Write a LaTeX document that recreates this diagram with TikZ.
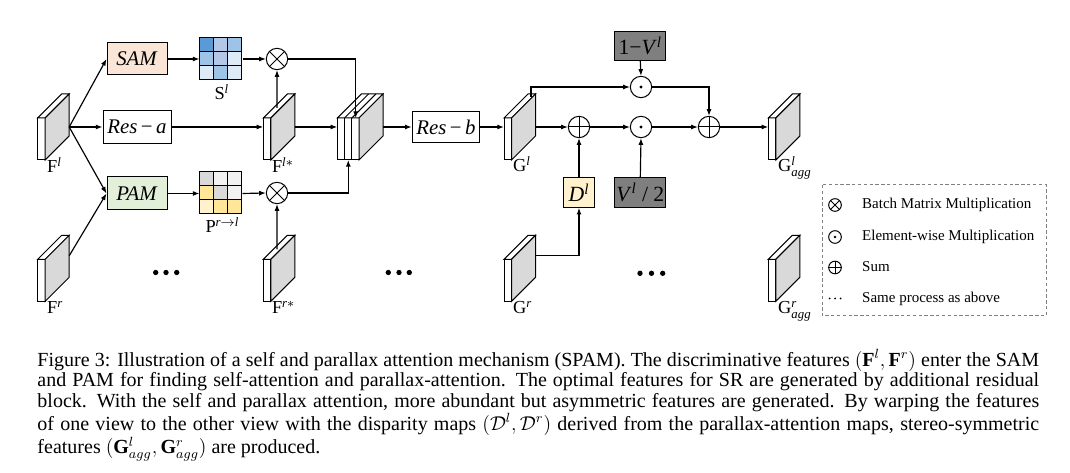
\documentclass[tikz,border=0pt]{standalone}
\usepackage{amsmath}
\usepackage{fontspec}
\setmainfont{Liberation Serif}
\usetikzlibrary{arrows.meta,calc}
\definecolor{blockgray}{HTML}{D9D9D9}
\definecolor{samfill}{HTML}{FBE5D6}
\definecolor{pamfill}{HTML}{E2F0D9}
\definecolor{dfill}{HTML}{FFF2CC}
\definecolor{vfill}{HTML}{7F7F7F}
\definecolor{bA}{HTML}{5B9BD5}
\definecolor{bB}{HTML}{B4C7E7}
\definecolor{bC}{HTML}{9DC3E6}
\definecolor{bD}{HTML}{DEEBF7}
\definecolor{yA}{HTML}{FFE699}
\definecolor{yB}{HTML}{FFF2CC}
\definecolor{gA}{HTML}{D9D9D9}
\definecolor{gB}{HTML}{F2F2F2}
\newcommand{\capl}[1]{\hbox to 601pt{#1}}
\newcommand{\cellgrid}[2]{%
  \foreach \cl [count=\k from 0] in {#2} {
    \pgfmathtruncatemacro{\rowi}{int(\k/3)}
    \pgfmathtruncatemacro{\coli}{mod(\k,3)}
    \draw[fill=\cl] ($(#1.north west)+(\coli*14,\rowi*14)$) rectangle ++(14,14);
  }}
\tikzset{
  fblock/.pic={
    \draw[fill=white] (0,0) rectangle (7.5,42);
    \draw[fill=white] (0,0)--(24,-24)--(31.5,-24)--(7.5,0)--cycle;
    \draw[fill=blockgray] (7.5,0)--(31.5,-24)--(31.5,18)--(7.5,42)--cycle;
    \coordinate (-in) at (0,9);
    \coordinate (-out) at (31.5,9);
    \coordinate (-up) at (13.7,-10);
    \coordinate (-upr) at (27,-21);
    \coordinate (-outr) at (31.5,-3.5);
  },
  cblock/.pic={
    \draw[fill=white] (0,0) rectangle (7.2,42);
    \draw[fill=white] (7.2,0) rectangle (14.5,42);
    \draw[fill=white] (14.5,0) rectangle (21.7,42);
    \draw[fill=white] (0,0)--(24,-24)--(45.7,-24)--(21.7,0)--cycle;
    \draw (7.2,0)--(31.2,-24) (14.5,0)--(38.5,-24);
    \draw[fill=blockgray] (21.7,0)--(45.7,-24)--(45.7,18)--(21.7,42)--cycle;
    \coordinate (-in) at (0,9);
    \coordinate (-out) at (45.7,9);
    \coordinate (-top) at (18.4,0);
    \coordinate (-bot) at (11,42);
  },
  boxs/.style={draw, line width=0.6pt, inner sep=0, font=\fontsize{12.5}{14}\selectfont},
  opc/.style={circle, draw, minimum size=12.8pt, inner sep=0, line width=0.6pt},
  otimesn/.style={opc, path picture={\draw (path picture bounding box.north west)--(path picture bounding box.south east) (path picture bounding box.north east)--(path picture bounding box.south west);}},
  oplusn/.style={opc, path picture={\draw (path picture bounding box.north)--(path picture bounding box.south) (path picture bounding box.east)--(path picture bounding box.west);}},
  odotn/.style={opc, path picture={\fill (path picture bounding box.center) circle[radius=1pt];}},
  lab/.style={anchor=base west, inner sep=0, font=\fontsize{11}{13}\selectfont},
  lt/.style={anchor=mid west, inner sep=0, font=\fontsize{9}{11}\selectfont},
  conn/.style={->, line width=0.7pt},
}
\begin{document}
\begin{tikzpicture}[x=0.6pt,y=-0.6pt, line width=0.6pt, >={Latex[length=4pt,width=3pt]}]
\useasboundingbox (0,0) rectangle (1070,473);
% feature blocks
\pic (Fl) at (37.7,118) {fblock};
\pic (Fr) at (37.7,259.3) {fblock};
\pic (Fls) at (263.3,118) {fblock};
\pic (Frs) at (263.3,259.3) {fblock};
\pic (C) at (337.3,118) {cblock};
\pic (Gl) at (504,118) {fblock};
\pic (Gr) at (504,259.3) {fblock};
\pic (Ga) at (768.3,118) {fblock};
\pic (Gra) at (768.3,259.3) {fblock};
% labels
\node[lab] (lFl) at (46.7,173) {F$^{\textit{l}}$};
\node[lab] (lFr) at (46.7,314) {F$^{\textit{r}}$};
\node[lab] (lFls) at (271.5,173) {F$^{\textit{l}*}$};
\node[lab] (lFrs) at (271.5,314) {F$^{\textit{r}*}$};
\node[lab] (lGl) at (512.7,172) {G$^{\textit{l}}$};
\node[lab] (lGr) at (512.7,314) {G$^{\textit{r}}$};
\node[lab] (lGa) at (777.7,172) {G$^{\textit{l}}_{\textit{agg}}$};
\node[lab] (lGra) at (777.7,314) {G$^{\textit{r}}_{\textit{agg}}$};
% boxes
\node[boxs, fill=samfill, minimum width=36pt, minimum height=19.2pt] (SAM) at (137,59) {\textit{SAM}};
\node[boxs, fill=white, minimum width=40.8pt, minimum height=19.6pt] (Resa) at (137,127) {\textit{Res}\,−\,\textit{a}};
\node[boxs, fill=pamfill, minimum width=36pt, minimum height=19.8pt] (PAM) at (137,193.5) {\textit{PAM}};
\node[boxs, fill=white, minimum width=40.6pt, minimum height=19pt] (Resb) at (446,127) {\textit{Res}\,−\,\textit{b}};
\node[boxs, fill=vfill, minimum width=30.4pt, minimum height=17.4pt, font=\fontsize{13}{15}\selectfont] (V1) at (640.3,46.2) {1−\textit{V}$^{\textit{l}}$};
\node[boxs, fill=dfill, minimum width=18.2pt, minimum height=17.8pt, font=\fontsize{13}{15}\selectfont] (Dl) at (579,192.5) {\textit{D}$^{\textit{l}}$};
\node[boxs, fill=vfill, minimum width=30.4pt, minimum height=17.8pt, font=\fontsize{13}{15}\selectfont] (V2) at (640.3,192.5) {\textit{V}$^{\textit{l}}$ / 2};
% matrices
\node[minimum width=25.2pt, minimum height=25.2pt, inner sep=0] (Sm) at (221,59) {};
\cellgrid{Sm}{bA,bB,bC,bC,bB,bD,bD,bC,bD}
\node[minimum width=25.2pt, minimum height=25.2pt, inner sep=0] (Pm) at (221,193.5) {};
\cellgrid{Pm}{gA,gB,gB,yA,gA,gB,yB,yA,yA}
\node[lab] (lSl) at (214,100) {S$^{\textit{l}}$};
\node[lab] (lPm) at (205,233) {P$^{\textit{r}\rightarrow\textit{l}}$};
% operators
\node[otimesn] (X1) at (277,59) {};
\node[otimesn] (X2) at (277,193) {};
\node[odotn] (D1) at (641,87) {};
\node[oplusn] (P1) at (579,127) {};
\node[odotn] (D2) at (641,127) {};
\node[oplusn] (P2) at (709,127) {};
% connectors
\draw[conn] (Fl-out) -- (SAM.west);
\draw[conn] (Fl-out) -- (Resa.west);
\draw[conn] (Fl-out) -- (PAM.west);
\draw[conn] (Fr-outr) -- (PAM.west);
\draw[conn] (SAM.east) -- (Sm.west);
\draw[conn] (Sm.east) -- (X1.west);
\draw[conn] (PAM.east) -- (Pm.west);
\draw[conn] (Pm.east) -- (X2.west);
\draw[conn] (Fls-up) -- (X1.south);
\draw[conn] (Frs-up) -- (X2.south);
\draw[conn] (Resa.east) -- (Fls-in);
\draw[conn] (Fls-out) -- (C-in);
\draw[conn] (X1.east) -| (C-top);
\draw[conn] (X2.east) -| (C-bot);
\draw[conn] (C-out) -- (Resb.west);
\draw[conn] (Resb.east) -- (Gl-in);
\draw[conn] (Gl-upr) |- (D1.west);
\draw[conn] (Gl-out) -- (P1.west);
\draw[conn] (P1.east) -- (D2.west);
\draw[conn] (D2.east) -- (P2.west);
\draw[conn] (D1.east) -| (P2.north);
\draw[conn] (P2.east) -- (Ga-in);
\draw[conn] (V1.south) -- (D1.north);
\draw[conn] (Dl.north) -- (P1.south);
\draw[conn] (V2.north) -- (D2.south);
\draw[conn] (Gr-outr) -| (Dl.south);
% dots
\foreach \dx in {155.7,166,176.7,388.3,399,409.3} \fill (\dx,272.5) circle[radius=1.6pt];
\foreach \dx in {640,651.5,662.7} \fill (\dx,273.3) circle[radius=1.6pt];
% legend
\draw[gray, dash pattern=on 2pt off 1.5pt, line width=0.6pt] (822,185) rectangle (1046,316);
\node[otimesn, minimum size=7.6pt] (LX) at (835,205) {};
\node[lt] (LXt) at (861.7,205) {Batch Matrix Multiplication};
\node[odotn, minimum size=7.6pt, path picture={\fill (path picture bounding box.center) circle[radius=0.8pt];}] (LD) at (835,237) {};
\node[lt] (LDt) at (861.7,237) {Element-wise Multiplication};
\node[oplusn, minimum size=7.6pt] (LP) at (835,267.5) {};
\node[lt] (LPt) at (861.7,267.5) {Sum};
\foreach \dx in {829.5,835,840.5} \fill (\dx,298.5) circle[radius=0.6pt];
\node[lt] (LSt) at (861.7,298.5) {Same process as above};
% caption
\node[anchor=north west, inner sep=0, font=\fontsize{12}{12.5}\selectfont] (cap) at (37,349) {\vbox{%
\capl{Figure 3: Illustration of a self and parallax attention mechanism (SPAM). The discriminative features $(\mathbf{F}^l, \mathbf{F}^r)$ enter the SAM}
\capl{and PAM for finding self-attention and parallax-attention. The optimal features for SR are generated by additional residual}
\capl{block. With the self and parallax attention, more abundant but asymmetric features are generated. By warping the features}
\capl{of one view to the other view with the disparity maps $(\mathcal{D}^l, \mathcal{D}^r)$ derived from the parallax-attention maps, stereo-symmetric}
\hbox{features $(\mathbf{G}^l_{agg}, \mathbf{G}^r_{agg})$ are produced.}}};
\end{tikzpicture}
\end{document}
